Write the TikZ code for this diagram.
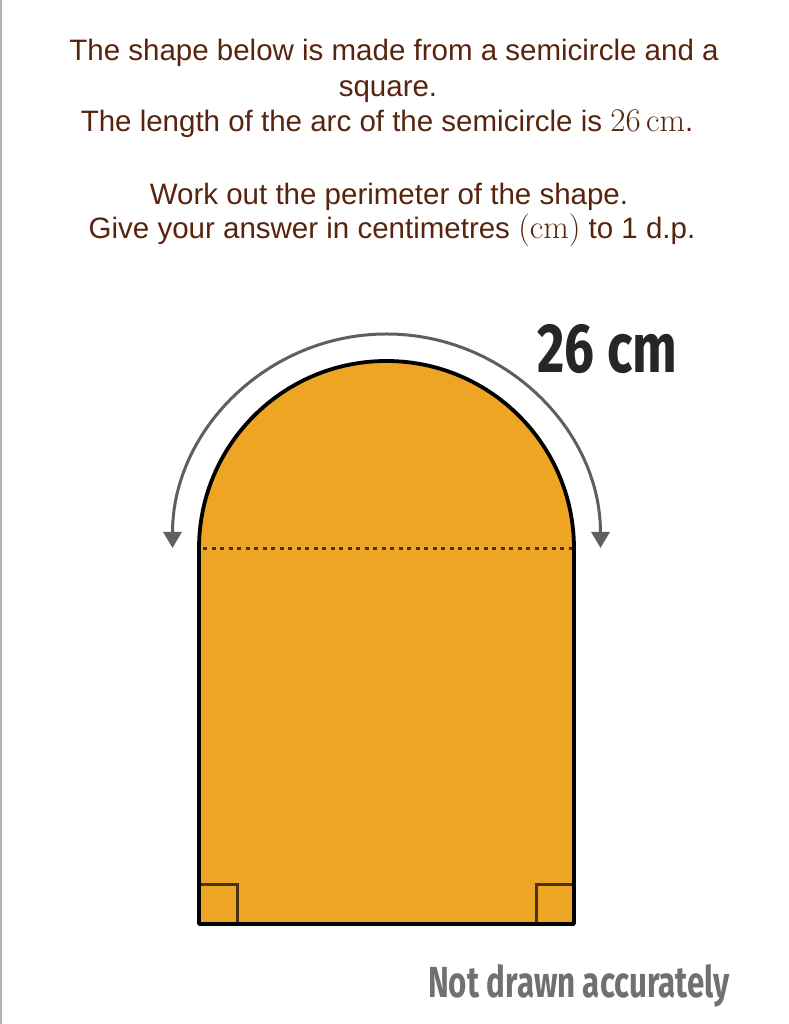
\documentclass[tikz,border=0pt]{standalone}
\usepackage{fontspec}
\newfontfamily\qfont{Liberation Sans}
\newfontfamily\condfont[FakeStretch=0.72]{Fira Sans}
\newfontfamily\labfont[FakeStretch=0.76]{Fira Sans}
\usetikzlibrary{arrows.meta}
\definecolor{qbrown}{RGB}{88,36,14}
\definecolor{shapefill}{RGB}{237,165,35}
\definecolor{arrowgray}{RGB}{95,95,95}
\definecolor{notegray}{RGB}{112,112,112}
\definecolor{markbrown}{RGB}{75,50,15}
\newcommand{\lmtext}[1]{{\rmfamily\fontsize{33}{34}\selectfont #1}}
\tikzset{
  qline/.style={anchor=base, inner sep=0pt, text=qbrown, font=\qfont\fontsize{29.5}{34}\selectfont},
  outline/.style={line width=3.8pt, draw=black, line join=round},
  rmark/.style={line width=3pt, draw=markbrown},
  arcarrow/.style={line width=3pt, draw=arrowgray, {Triangle[length=16pt,width=18pt,fill=arrowgray]}-{Triangle[length=16pt,width=18pt,fill=arrowgray]}},
}
\begin{document}
\begin{tikzpicture}[x=1pt,y=1pt]
\useasboundingbox[fill=white] (0,0) rectangle (788,1024);
\draw[line width=1.5pt, draw=black!30] (0.75,0) -- (0.75,1024);
% question text
\node[qline] (t1) at (394,963) {The shape below is made from a semicircle and a};
\node[qline] (t2) at (388,927) {square.};
\node[qline] (t3) at (387,892) {The length of the arc of the semicircle is \lmtext{26\,cm}.};
\node[qline] (t4) at (389,819) {Work out the perimeter of the shape.};
\node[qline] (t5) at (392,785) {Give your answer in centimetres \lmtext{(cm)} to 1 d.p.};
% shape
\fill[shapefill] (199,100) -- (199,475.5) arc[start angle=180, end angle=0, radius=187.5] -- (574,100) -- cycle;
\draw[line width=3pt, draw=markbrown, dash pattern=on 4pt off 4.5pt] (203,475.5) -- (572,475.5);
\draw[rmark] (199,139) -- (237,139) -- (237,100);
\draw[rmark] (574,139) -- (536,139) -- (536,100);
\draw[outline] (199,100) -- (199,475.5) arc[start angle=180, end angle=0, radius=187.5] -- (574,100) -- cycle;
% arc arrow
\coordinate (aL) at (172.5,476);
\draw[arcarrow] (aL) arc[start angle=180, end angle=0, radius=214];
\node[anchor=base west, inner sep=0pt, text=black!85, font=\labfont\bfseries\fontsize{69.7}{70}\selectfont] (lab) at (537,651) {26 cm};
\node[anchor=base west, inner sep=0pt, text=notegray, font=\condfont\bfseries\fontsize{43.5}{44}\selectfont] (note) at (428,26) {Not drawn accurately};
\end{tikzpicture}
\end{document}
